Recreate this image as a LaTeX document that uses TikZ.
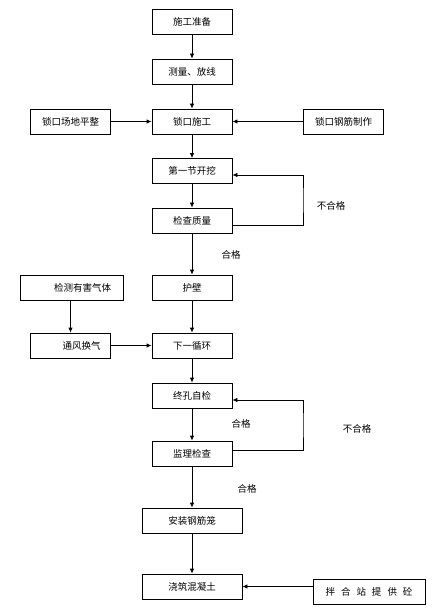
\documentclass[tikz,border=0pt]{standalone}
\usepackage{fontspec}
\usepackage{xcolor}
\setmainfont{Liberation Sans}
\newfontfamily\cjk{Noto Sans CJK SC}
\usetikzlibrary{arrows.meta,shapes,calc,positioning}

\begin{document}
\begin{tikzpicture}[x=1pt,y=-1pt]
			\tikzstyle{every node}=[font=\cjk\fontsize{9.5}{11}\selectfont]
			\tikzstyle{box}=[draw, line width=0.8pt, minimum width=80pt, minimum height=25pt, inner sep=0pt]
			\tikzstyle{arr}=[line width=0.8pt, -{Latex[length=5pt,width=4.5pt]}]
			\useasboundingbox (0,0) rectangle (431,609);
			\node [box] (prep) at (192,21.5) {施工准备};
			\node [box] (survey) at (192,71.5) {测量、放线};
			\node [box] (lock) at (192,121.5) {锁口施工};
			\node [box] (site) at (70.5,121.5) {锁口场地平整};
			\node [box] (rebar) at (343.5,121.5) {锁口钢筋制作};
			\node [box] (dig1) at (192,171) {第一节开挖};
			\node [box] (check) at (192,220.5) {检查质量};
			\node [box] (wall) at (192,287.5) {护壁};
			\node [box, minimum width=103pt] (gas) at (71.5,287.5) {\hspace{22pt}检测有害气体};
			\node [box] (vent) at (70.5,345.5) {\hspace{22pt}通风换气};
			\node [box] (next) at (192,345.5) {下一循环};
			\node [box] (hole) at (192,395.5) {终孔自检};
			\node [box] (super) at (192,453.5) {监理检查};
			\node [box, minimum width=100pt] (cage) at (192,520.5) {安装钢筋笼};
			\node [box, minimum width=100pt] (pour) at (192,586.5) {浇筑混凝土};
			\node [box, minimum width=112pt] (mix) at (369,591.5) {拌\hspace{6pt}合\hspace{6pt}站\hspace{6pt}提\hspace{6pt}供\hspace{6pt}砼};
			\node (fail1) at (331,206) {不合格};
			\node (pass1) at (231,255) {合格};
			\node (pass2) at (241,424) {合格};
			\node (fail2) at (357,429) {不合格};
			\node (pass3) at (247,489) {合格};
			\coordinate (loop1) at (303,200);
			\coordinate (loop2) at (303,425);
			\draw [arr] (prep) -- (survey);
			\draw [arr] (survey) -- (lock);
			\draw [arr] (site) -- (lock);
			\draw [arr] (rebar) -- (lock);
			\draw [arr] (lock) -- (dig1);
			\draw [arr] (dig1) -- (check);
			\draw [arr] ([yshift=-4.5pt]check.east) -| (loop1) |- ([yshift=-4pt]dig1.east);
			\draw [arr] (check) -- (wall);
			\draw [arr] (gas.south -| vent.north) -- (vent.north);
			\draw [arr] (vent) -- (next);
			\draw [arr] (wall) -- (next);
			\draw [arr] (next) -- (hole);
			\draw [arr] (hole) -- (super);
			\draw [arr] ([yshift=3.5pt]super.east) -| (loop2) |- ([yshift=-4.5pt]hole.east);
			\draw [arr] (super) -- (cage);
			\draw [arr] (cage) -- (pour);
			\draw [arr] (pour.east -| mix.west) -- (pour.east);
		\end{tikzpicture}
\end{document}
